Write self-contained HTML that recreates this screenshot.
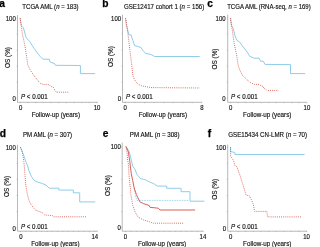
<!DOCTYPE html><html><head><meta charset="utf-8"><style>html,body{margin:0;padding:0;background:#fff;width:312px;height:247px;overflow:hidden}svg{display:block;filter:blur(0.2px)}text{font-family:"Liberation Sans",sans-serif}</style></head><body>
<svg width="312" height="247" viewBox="0 0 312 247">
<rect width="312" height="247" fill="#fff"/>
<text x="-0.8" y="6.6" font-size="10.2" font-weight="bold" fill="#000" stroke="#000" stroke-width="0.25">a</text>
<text x="22.30" y="8.90" font-size="6.7" fill="#111111" stroke="#111111" stroke-width="0.15" textLength="56.30" lengthAdjust="spacingAndGlyphs">TCGA AML (<tspan font-style="italic">n</tspan> = 183)</text>
<path d="M17.5,15V102.3H97.8" fill="none" stroke="#8a8a8a" stroke-width="0.6"/>
<path d="M20.20,102.3v0.9M27.88,102.3v0.9M35.56,102.3v0.9M43.24,102.3v0.9M50.92,102.3v0.9M58.60,102.3v0.9M66.28,102.3v0.9M73.96,102.3v0.9M81.64,102.3v0.9M89.32,102.3v0.9M97.00,102.3v0.9M17.5,18.00h-0.9M17.5,34.04h-0.9M17.5,50.08h-0.9M17.5,66.12h-0.9M17.5,82.16h-0.9M17.5,98.20h-0.9" stroke="#8a8a8a" stroke-width="0.45" fill="none"/>
<text x="15.80" y="21.00" font-size="6.7" fill="#111111" stroke="#111111" stroke-width="0.15" text-anchor="end" textLength="10.01" lengthAdjust="spacingAndGlyphs">100</text>
<text x="15.80" y="101.20" font-size="6.7" fill="#111111" stroke="#111111" stroke-width="0.15" text-anchor="end" textLength="3.34" lengthAdjust="spacingAndGlyphs">0</text>
<text x="7.70" y="57.50" font-size="6.7" fill="#111111" stroke="#111111" stroke-width="0.15" text-anchor="middle" textLength="20.98" lengthAdjust="spacingAndGlyphs" dominant-baseline="central" transform="rotate(-90 7.7 57.5)">OS (%)</text>
<text x="20.60" y="110.00" font-size="6.7" fill="#111111" stroke="#111111" stroke-width="0.15" text-anchor="middle" textLength="3.34" lengthAdjust="spacingAndGlyphs">0</text>
<text x="97.00" y="110.00" font-size="6.7" fill="#111111" stroke="#111111" stroke-width="0.15" text-anchor="middle" textLength="6.67" lengthAdjust="spacingAndGlyphs">10</text>
<text x="31.80" y="116.70" font-size="6.7" fill="#111111" stroke="#111111" stroke-width="0.15" textLength="48.28" lengthAdjust="spacingAndGlyphs">Follow-up (years)</text>
<text x="21.00" y="99.10" font-size="6.7" fill="#111111" stroke="#111111" stroke-width="0.15" textLength="26.72" lengthAdjust="spacingAndGlyphs"><tspan font-style="italic">P</tspan> &lt; 0.001</text>
<text x="102.2" y="6.6" font-size="10.2" font-weight="bold" fill="#000" stroke="#000" stroke-width="0.25">b</text>
<text x="124.00" y="8.90" font-size="6.7" fill="#111111" stroke="#111111" stroke-width="0.15" textLength="80.30" lengthAdjust="spacingAndGlyphs">GSE12417 cohort 1 (<tspan font-style="italic">n</tspan> = 156)</text>
<path d="M122.5,14.6V102.3H202" fill="none" stroke="#8a8a8a" stroke-width="0.6"/>
<path d="M125.40,102.3v0.9M134.95,102.3v0.9M144.50,102.3v0.9M154.05,102.3v0.9M163.60,102.3v0.9M173.15,102.3v0.9M182.70,102.3v0.9M192.25,102.3v0.9M201.80,102.3v0.9M122.5,18.00h-0.9M122.5,34.04h-0.9M122.5,50.08h-0.9M122.5,66.12h-0.9M122.5,82.16h-0.9M122.5,98.20h-0.9" stroke="#8a8a8a" stroke-width="0.45" fill="none"/>
<text x="121.10" y="21.00" font-size="6.7" fill="#111111" stroke="#111111" stroke-width="0.15" text-anchor="end" textLength="10.01" lengthAdjust="spacingAndGlyphs">100</text>
<text x="121.10" y="101.20" font-size="6.7" fill="#111111" stroke="#111111" stroke-width="0.15" text-anchor="end" textLength="3.34" lengthAdjust="spacingAndGlyphs">0</text>
<text x="110.90" y="56.60" font-size="6.7" fill="#111111" stroke="#111111" stroke-width="0.15" text-anchor="middle" textLength="20.98" lengthAdjust="spacingAndGlyphs" dominant-baseline="central" transform="rotate(-90 110.9 56.6)">OS (%)</text>
<text x="125.20" y="110.00" font-size="6.7" fill="#111111" stroke="#111111" stroke-width="0.15" text-anchor="middle" textLength="3.34" lengthAdjust="spacingAndGlyphs">0</text>
<text x="201.80" y="110.00" font-size="6.7" fill="#111111" stroke="#111111" stroke-width="0.15" text-anchor="middle" textLength="3.34" lengthAdjust="spacingAndGlyphs">8</text>
<text x="138.70" y="116.70" font-size="6.7" fill="#111111" stroke="#111111" stroke-width="0.15" textLength="48.28" lengthAdjust="spacingAndGlyphs">Follow-up (years)</text>
<text x="126.00" y="99.10" font-size="6.7" fill="#111111" stroke="#111111" stroke-width="0.15" textLength="26.72" lengthAdjust="spacingAndGlyphs"><tspan font-style="italic">P</tspan> &lt; 0.001</text>
<text x="207.2" y="7.1" font-size="10.2" font-weight="bold" fill="#000" stroke="#000" stroke-width="0.25">c</text>
<text x="227.20" y="8.90" font-size="6.7" fill="#111111" stroke="#111111" stroke-width="0.15" textLength="83.50" lengthAdjust="spacingAndGlyphs">TCGA AML (RNA-seq, <tspan font-style="italic">n</tspan> = 169)</text>
<path d="M227.7,14.6V102.3H307" fill="none" stroke="#8a8a8a" stroke-width="0.6"/>
<path d="M230.50,102.3v0.9M238.14,102.3v0.9M245.78,102.3v0.9M253.42,102.3v0.9M261.06,102.3v0.9M268.70,102.3v0.9M276.34,102.3v0.9M283.98,102.3v0.9M291.62,102.3v0.9M299.26,102.3v0.9M306.90,102.3v0.9M227.7,18.00h-0.9M227.7,34.04h-0.9M227.7,50.08h-0.9M227.7,66.12h-0.9M227.7,82.16h-0.9M227.7,98.20h-0.9" stroke="#8a8a8a" stroke-width="0.45" fill="none"/>
<text x="225.60" y="21.00" font-size="6.7" fill="#111111" stroke="#111111" stroke-width="0.15" text-anchor="end" textLength="10.01" lengthAdjust="spacingAndGlyphs">100</text>
<text x="225.60" y="101.20" font-size="6.7" fill="#111111" stroke="#111111" stroke-width="0.15" text-anchor="end" textLength="3.34" lengthAdjust="spacingAndGlyphs">0</text>
<text x="214.90" y="59.00" font-size="6.7" fill="#111111" stroke="#111111" stroke-width="0.15" text-anchor="middle" textLength="20.98" lengthAdjust="spacingAndGlyphs" dominant-baseline="central" transform="rotate(-90 214.9 59)">OS (%)</text>
<text x="230.60" y="110.00" font-size="6.7" fill="#111111" stroke="#111111" stroke-width="0.15" text-anchor="middle" textLength="3.34" lengthAdjust="spacingAndGlyphs">0</text>
<text x="306.90" y="110.00" font-size="6.7" fill="#111111" stroke="#111111" stroke-width="0.15" text-anchor="middle" textLength="6.67" lengthAdjust="spacingAndGlyphs">10</text>
<text x="243.10" y="116.70" font-size="6.7" fill="#111111" stroke="#111111" stroke-width="0.15" textLength="48.28" lengthAdjust="spacingAndGlyphs">Follow-up (years)</text>
<text x="231.00" y="99.10" font-size="6.7" fill="#111111" stroke="#111111" stroke-width="0.15" textLength="26.72" lengthAdjust="spacingAndGlyphs"><tspan font-style="italic">P</tspan> &lt; 0.001</text>
<text x="-0.3" y="136.5" font-size="10.2" font-weight="bold" fill="#000" stroke="#000" stroke-width="0.25">d</text>
<text x="22.90" y="137.40" font-size="6.7" fill="#111111" stroke="#111111" stroke-width="0.15" textLength="49.20" lengthAdjust="spacingAndGlyphs">PM AML (<tspan font-style="italic">n</tspan> = 307)</text>
<path d="M17.5,144.7V231.2H98" fill="none" stroke="#8a8a8a" stroke-width="0.6"/>
<path d="M20.50,231.2v0.9M25.80,231.2v0.9M31.10,231.2v0.9M36.40,231.2v0.9M41.70,231.2v0.9M47.00,231.2v0.9M52.30,231.2v0.9M57.60,231.2v0.9M62.90,231.2v0.9M68.20,231.2v0.9M73.50,231.2v0.9M78.80,231.2v0.9M84.10,231.2v0.9M89.40,231.2v0.9M94.70,231.2v0.9M17.5,147.10h-0.9M17.5,163.22h-0.9M17.5,179.34h-0.9M17.5,195.46h-0.9M17.5,211.58h-0.9M17.5,227.70h-0.9" stroke="#8a8a8a" stroke-width="0.45" fill="none"/>
<text x="15.80" y="150.20" font-size="6.7" fill="#111111" stroke="#111111" stroke-width="0.15" text-anchor="end" textLength="10.01" lengthAdjust="spacingAndGlyphs">100</text>
<text x="15.80" y="230.60" font-size="6.7" fill="#111111" stroke="#111111" stroke-width="0.15" text-anchor="end" textLength="3.34" lengthAdjust="spacingAndGlyphs">0</text>
<text x="6.90" y="186.40" font-size="6.7" fill="#111111" stroke="#111111" stroke-width="0.15" text-anchor="middle" textLength="20.98" lengthAdjust="spacingAndGlyphs" dominant-baseline="central" transform="rotate(-90 6.9 186.4)">OS (%)</text>
<text x="20.80" y="239.10" font-size="6.7" fill="#111111" stroke="#111111" stroke-width="0.15" text-anchor="middle" textLength="3.34" lengthAdjust="spacingAndGlyphs">0</text>
<text x="94.80" y="239.10" font-size="6.7" fill="#111111" stroke="#111111" stroke-width="0.15" text-anchor="middle" textLength="6.67" lengthAdjust="spacingAndGlyphs">14</text>
<text x="31.30" y="245.70" font-size="6.7" fill="#111111" stroke="#111111" stroke-width="0.15" textLength="48.28" lengthAdjust="spacingAndGlyphs">Follow-up (years)</text>
<text x="20.90" y="229.20" font-size="6.7" fill="#111111" stroke="#111111" stroke-width="0.15" textLength="26.72" lengthAdjust="spacingAndGlyphs"><tspan font-style="italic">P</tspan> &lt; 0.001</text>
<text x="102.8" y="136.5" font-size="10.2" font-weight="bold" fill="#000" stroke="#000" stroke-width="0.25">e</text>
<text x="129.80" y="137.40" font-size="6.7" fill="#111111" stroke="#111111" stroke-width="0.15" textLength="49.80" lengthAdjust="spacingAndGlyphs">PM AML (<tspan font-style="italic">n</tspan> = 308)</text>
<path d="M122.2,142.6V231.2H203.5" fill="none" stroke="#8a8a8a" stroke-width="0.6"/>
<path d="M125.70,231.2v0.9M131.21,231.2v0.9M136.72,231.2v0.9M142.23,231.2v0.9M147.74,231.2v0.9M153.25,231.2v0.9M158.76,231.2v0.9M164.27,231.2v0.9M169.78,231.2v0.9M175.29,231.2v0.9M180.80,231.2v0.9M186.31,231.2v0.9M191.82,231.2v0.9M197.33,231.2v0.9M202.84,231.2v0.9M122.2,147.10h-0.9M122.2,163.22h-0.9M122.2,179.34h-0.9M122.2,195.46h-0.9M122.2,211.58h-0.9M122.2,227.70h-0.9" stroke="#8a8a8a" stroke-width="0.45" fill="none"/>
<text x="120.80" y="149.00" font-size="6.7" fill="#111111" stroke="#111111" stroke-width="0.15" text-anchor="end" textLength="10.01" lengthAdjust="spacingAndGlyphs">100</text>
<text x="120.80" y="230.20" font-size="6.7" fill="#111111" stroke="#111111" stroke-width="0.15" text-anchor="end" textLength="3.34" lengthAdjust="spacingAndGlyphs">0</text>
<text x="108.00" y="185.60" font-size="6.7" fill="#111111" stroke="#111111" stroke-width="0.15" text-anchor="middle" textLength="20.98" lengthAdjust="spacingAndGlyphs" dominant-baseline="central" transform="rotate(-90 108 185.6)">OS (%)</text>
<text x="125.50" y="239.10" font-size="6.7" fill="#111111" stroke="#111111" stroke-width="0.15" text-anchor="middle" textLength="3.34" lengthAdjust="spacingAndGlyphs">0</text>
<text x="202.90" y="239.10" font-size="6.7" fill="#111111" stroke="#111111" stroke-width="0.15" text-anchor="middle" textLength="6.67" lengthAdjust="spacingAndGlyphs">14</text>
<text x="137.90" y="245.70" font-size="6.7" fill="#111111" stroke="#111111" stroke-width="0.15" textLength="48.28" lengthAdjust="spacingAndGlyphs">Follow-up (years)</text>
<text x="207.8" y="136.5" font-size="10.2" font-weight="bold" fill="#000" stroke="#000" stroke-width="0.25">f</text>
<text x="228.30" y="137.40" font-size="6.7" fill="#111111" stroke="#111111" stroke-width="0.15" textLength="78.80" lengthAdjust="spacingAndGlyphs">GSE15434 CN-LMR (<tspan font-style="italic">n</tspan> = 70)</text>
<path d="M227.7,144.5V231.2H307.1" fill="none" stroke="#8a8a8a" stroke-width="0.6"/>
<path d="M230.50,231.2v0.9M238.11,231.2v0.9M245.72,231.2v0.9M253.33,231.2v0.9M260.94,231.2v0.9M268.55,231.2v0.9M276.16,231.2v0.9M283.77,231.2v0.9M291.38,231.2v0.9M298.99,231.2v0.9M306.60,231.2v0.9M227.7,147.10h-0.9M227.7,163.22h-0.9M227.7,179.34h-0.9M227.7,195.46h-0.9M227.7,211.58h-0.9M227.7,227.70h-0.9" stroke="#8a8a8a" stroke-width="0.45" fill="none"/>
<text x="226.00" y="150.20" font-size="6.7" fill="#111111" stroke="#111111" stroke-width="0.15" text-anchor="end" textLength="10.01" lengthAdjust="spacingAndGlyphs">100</text>
<text x="226.00" y="230.60" font-size="6.7" fill="#111111" stroke="#111111" stroke-width="0.15" text-anchor="end" textLength="3.34" lengthAdjust="spacingAndGlyphs">0</text>
<text x="214.10" y="189.30" font-size="6.7" fill="#111111" stroke="#111111" stroke-width="0.15" text-anchor="middle" textLength="20.98" lengthAdjust="spacingAndGlyphs" dominant-baseline="central" transform="rotate(-90 214.1 189.3)">OS (%)</text>
<text x="230.60" y="239.10" font-size="6.7" fill="#111111" stroke="#111111" stroke-width="0.15" text-anchor="middle" textLength="3.34" lengthAdjust="spacingAndGlyphs">0</text>
<text x="306.60" y="239.10" font-size="6.7" fill="#111111" stroke="#111111" stroke-width="0.15" text-anchor="middle" textLength="6.67" lengthAdjust="spacingAndGlyphs">10</text>
<text x="243.10" y="245.70" font-size="6.7" fill="#111111" stroke="#111111" stroke-width="0.15" textLength="48.28" lengthAdjust="spacingAndGlyphs">Follow-up (years)</text>
<text x="231.00" y="229.20" font-size="6.7" fill="#111111" stroke="#111111" stroke-width="0.15" textLength="26.72" lengthAdjust="spacingAndGlyphs"><tspan font-style="italic">P</tspan> &lt; 0.001</text>
<polyline points="134.2,188.0 135.5,196.0 137.0,200.4 188.9,200.4" fill="none" stroke="#7cc4e4" stroke-width="0.7" stroke-dasharray="1.5,1" stroke-linejoin="round"/>
<polyline points="20.1,18.0 21.3,25.7 22.3,26.6 23.3,27.6 24.3,31.0 25.7,36.3 26.9,38.6 29.7,41.3 32.4,45.9 34.2,48.6 36.9,52.3 39.7,55.9 40.0,56.3 42.9,59.2 49.2,59.2 50.2,62.1 54.6,63.6 55.5,65.3 80.4,65.5 80.4,73.6 95.2,73.6" fill="none" stroke="#7cc4e4" stroke-width="0.85" stroke-linejoin="round"/>
<polyline points="20.1,18.0 21.3,25.7 21.8,29.5 22.3,33.4 23.3,38.0 25.1,46.8 26.9,58.6 27.8,65.1 30.6,70.6 34.2,76.0 37.9,80.6 40.0,83.2 43.1,84.4 49.2,84.7 50.8,86.3 53.3,87.3 55.4,90.9 56.4,92.2 68.7,92.2" fill="none" stroke="#d9564c" stroke-width="0.95" stroke-dasharray="0.9,1.2" stroke-linejoin="round"/>
<polyline points="125.5,18.0 126.4,24.8 128.2,32.0 129.1,34.8 130.9,34.8 132.8,40.2 134.6,45.7 138.2,46.6 140.9,47.5 142.8,50.3 145.5,53.5 150.0,54.2 151.9,54.9 154.6,56.5 199.7,56.5" fill="none" stroke="#7cc4e4" stroke-width="0.85" stroke-linejoin="round"/>
<polyline points="125.5,18.0 126.4,22.9 128.2,35.7 130.0,51.2 130.6,56.0 131.7,64.1 132.5,72.2 133.3,77.1 135.8,81.9 138.2,84.4 142.3,86.0 146.3,86.8 152.0,87.6 199.7,88.0" fill="none" stroke="#d9564c" stroke-width="0.95" stroke-dasharray="0.9,1.2" stroke-linejoin="round"/>
<polyline points="230.5,18.0 231.4,25.7 233.2,28.4 235.0,35.7 236.8,40.2 239.6,42.0 242.3,45.7 245.0,49.3 247.8,53.0 249.5,56.0 253.9,58.2 259.0,58.2 260.4,61.1 263.3,61.3 265.0,64.4 290.5,64.6 290.5,73.6 305.1,73.6" fill="none" stroke="#7cc4e4" stroke-width="0.85" stroke-linejoin="round"/>
<polyline points="230.5,18.0 232.3,30.2 234.1,43.0 236.8,56.0 237.8,63.3 239.3,69.1 242.2,75.0 246.6,79.3 251.0,83.0 254.6,84.4 259.0,84.4 261.2,85.7 263.3,86.3 263.8,88.3 265.8,89.3 266.9,90.4 278.7,90.4" fill="none" stroke="#d9564c" stroke-width="0.95" stroke-dasharray="0.9,1.2" stroke-linejoin="round"/>
<polyline points="20.4,147.0 21.8,150.7 23.8,155.6 25.7,161.4 27.7,166.0 28.8,170.3 31.5,176.7 34.2,180.3 36.0,181.6 41.1,183.1 46.1,185.1 49.2,188.2 58.8,188.2 58.8,190.1 73.3,190.1 73.3,192.8 79.7,192.8 79.7,201.9 95.2,201.9" fill="none" stroke="#7cc4e4" stroke-width="0.85" stroke-linejoin="round"/>
<polyline points="20.4,147.0 21.8,150.7 22.8,154.6 23.8,161.4 24.3,166.0 25.7,184.1 27.3,194.1 28.9,200.3 31.0,204.5 33.8,208.3 36.0,210.4 42.0,212.5 44.7,215.0 52.4,215.6 53.3,216.8 86.2,216.8" fill="none" stroke="#d9564c" stroke-width="0.95" stroke-dasharray="0.9,1.2" stroke-linejoin="round"/>
<polyline points="126.0,146.6 129.1,151.5 130.7,157.5 132.7,166.0 134.7,168.9 137.1,174.7 140.5,178.6 145.5,179.8 149.1,181.8 153.7,183.6 157.3,186.1 166.7,186.1 166.7,188.3 181.1,188.3 181.1,191.7 190.0,191.7 190.0,201.2 204.4,201.2" fill="none" stroke="#7cc4e4" stroke-width="0.85" stroke-linejoin="round"/>
<polyline points="126.0,146.6 128.3,151.7 129.8,161.4 130.3,166.0 131.3,173.7 132.7,180.5 134.2,188.0 136.4,194.6 139.8,201.8 143.7,203.7 149.1,205.5 150.0,207.3 158.3,208.2 160.0,210.0 195.1,210.0" fill="none" stroke="#d9564c" stroke-width="0.95" stroke-linejoin="round"/>
<polyline points="126.0,146.6 126.9,151.0 127.6,160.0 128.4,164.0 128.9,173.7 129.8,183.4 130.3,188.0 130.9,194.6 132.8,205.5 135.5,212.8 138.2,217.3 143.7,220.0 145.0,220.3 153.2,223.2 183.3,223.2" fill="none" stroke="#d9564c" stroke-width="0.95" stroke-dasharray="0.9,1.2" stroke-linejoin="round"/>
<polyline points="230.6,147.0 230.4,151.8 232.2,151.8 234.9,152.8 234.9,154.5 304.6,154.5" fill="none" stroke="#7cc4e4" stroke-width="0.85" stroke-linejoin="round"/>
<polyline points="230.6,147.0 230.6,156.4 232.2,158.2 233.9,161.7 234.9,165.5 237.0,166.8 238.6,171.9 240.4,176.4 241.7,181.1 243.4,186.0 244.5,190.0 246.0,195.0 249.5,196.0 251.3,199.6 253.3,204.4 254.6,211.4 266.8,211.4 267.7,216.9 301.4,216.9" fill="none" stroke="#d9564c" stroke-width="0.95" stroke-dasharray="0.9,1.2" stroke-linejoin="round"/>
</svg></body></html>
